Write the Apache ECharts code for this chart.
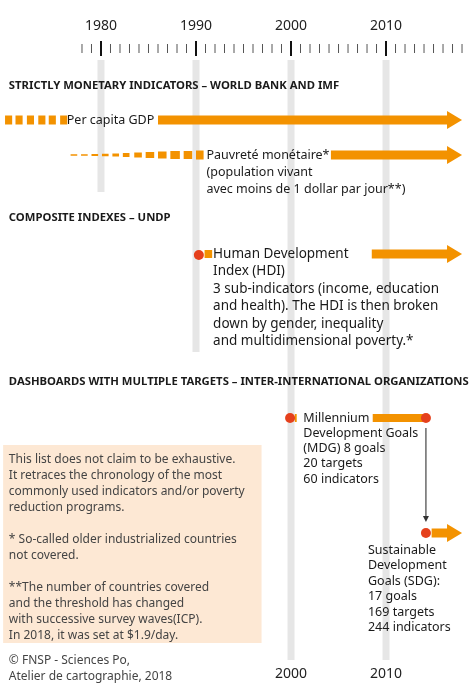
<!DOCTYPE html>
<html><head><meta charset="utf-8">
<script src="https://cdn.jsdelivr.net/npm/echarts@6/dist/echarts.min.js"></script>
<style>html,body{margin:0;padding:0;background:#fff}#c{width:474px;height:697px}</style>
</head><body><div id="c"></div>
<script>
var F='"Noto Sans", sans-serif';
var ORANGE='#f39200', RED='#e5401c';
var decadeLabels=[1980,1990,2000,2010];
var bottomLabels=[2000,2010];
var tickYears=[];for(var t=1978;t<=2018;t++)tickYears.push(t);
// gray bands: [year, yStart, yEnd]
var bands=[[1980,60,192],[1990,60,352],[2000,60,660],[2010,60,660]];
// arrows: [startYear, endYear, y]
var arrows=[[1986,2018.0,120],[2004.2,2018.0,155],[2008.5,2018.0,254],[2014.8,2018.0,533]];
// bars: [startYear, endYear, y, height]
var bars=[[1990.9,1991.7,254,8],[2000.4,2000.6,418,8],[2008.6,2013.9,418,8]];
// dashed squares for GDP: [startYear]
var gdpDashes=[1969.9,1971.0,1972.2,1973.4,1974.5,1975.7];
// pauvreté dashes: [startYear, endYear, thickness]
var povDashes=[[1976.8,1977.5,1.5],[1977.9,1978.6,1.5],[1979.0,1979.7,2],[1980.1,1980.8,2.5],[1981.2,1981.9,3],[1982.3,1983.0,4],[1983.5,1984.3,5],[1984.7,1985.6,6],[1986.0,1986.9,7],[1987.3,1988.3,8],[1988.7,1989.6,8],[1990.0,1990.8,9]];
// red dots: [year, y]
var dots=[[1990.3,255],[1999.9,418],[2014.2,418],[2014.2,533]];
// headings
var headings=[[1970.3,86,'STRICTLY MONETARY INDICATORS – WORLD BANK AND IMF'],[1970.3,218,'COMPOSITE INDEXES – UNDP'],[1970.3,382,'DASHBOARDS WITH MULTIPLE TARGETS – INTER-INTERNATIONAL ORGANIZATIONS']];
// text blocks: [year, firstY, lineHeight, fontSize, lines]
var texts=[
 [1976.4,120,17,12.5,['Per capita GDP']],
 [1991.1,155,17,12.5,['Pauvreté monétaire*','(population vivant','avec moins de 1 dollar par jour**)']],
 [1991.8,254,17.5,13.5,['Human Development','Index (HDI)','3 sub-indicators (income, education','and health). The HDI is then broken','down by gender, inequality','and multidimensional poverty.*']],
 [2001.3,418,15.3,12.5,['Millennium','Development Goals','(MDG) 8 goals','20 targets','60 indicators']],
 [2008.1,550,15.5,12.5,['Sustainable','Development','Goals (SDG):','17 goals','169 targets','244 indicators']],
 [1970.3,460,16,12,['This list does not claim to be exhaustive.','It retraces the chronology of the most','commonly used indicators and/or poverty','reduction programs.','','* So-called older industrialized countries','not covered.','','**The number of countries covered','and the threshold has changed','with successive survey waves(ICP).','In 2018, it was set at $1.9/day.']],
 [1970.3,661,16,12,['© FNSP - Sciences Po,','Atelier de cartographie, 2018']]
];
var box=[1969.7,2017,445,643];// startYear,endYear? (x end year), yTop,yBottom
box[1]=1996.9;

function custom(data,fn,z){return {type:'custom',coordinateSystem:'cartesian2d',data:data,z:z||2,silent:true,renderItem:function(p,api){return fn(data[p.dataIndex],api);},encode:{x:0,y:1}};}
function C(x,y,api){return api.coord([x,y]);}

var series=[
 custom([box],function(d,api){var a=C(d[0],d[2],api),b=C(d[1],d[3],api);return {type:'rect',shape:{x:a[0],y:a[1],width:b[0]-a[0],height:b[1]-a[1]},style:{fill:'#fde8d4'}};},1),
 custom(bands,function(d,api){var a=C(d[0],d[1],api),b=C(d[0],d[2],api);return {type:'rect',shape:{x:a[0]-3.5,y:a[1],width:7,height:b[1]-a[1]},style:{fill:'#e6e6e6'}};},1),
 custom(tickYears,function(d,api){var maj=d%10===0;var a=C(d,maj?41:44,api),b=C(d,maj?56:53,api);return {type:'line',shape:{x1:a[0],y1:a[1],x2:b[0],y2:b[1]},style:{stroke:maj?'#111':'#555',lineWidth:maj?2:1}};}),
 custom(decadeLabels,function(d,api){var a=C(d,26,api);return {type:'text',style:{x:a[0],y:a[1],text:String(d),font:'14px '+F,fill:'#222',align:'center',verticalAlign:'middle'}};}),
 custom(bottomLabels,function(d,api){var a=C(d,674,api);return {type:'text',style:{x:a[0],y:a[1],text:String(d),font:'14px '+F,fill:'#222',align:'center',verticalAlign:'middle'}};}),
 custom(arrows,function(d,api){var a=C(d[0],d[2],api),b=C(d[1],d[2],api);var h=9,H=18,L=15;var x0=a[0],x1=b[0],y=a[1];
   return {type:'polygon',shape:{points:[[x0,y-h/2],[x1-L,y-h/2],[x1-L,y-H/2],[x1,y],[x1-L,y+H/2],[x1-L,y+h/2],[x0,y+h/2]]},style:{fill:ORANGE}};}),
 custom(bars,function(d,api){var a=C(d[0],d[2],api),b=C(d[1],d[2],api);return {type:'rect',shape:{x:a[0],y:a[1]-d[3]/2,width:b[0]-a[0],height:d[3]},style:{fill:ORANGE}};}),
 custom(gdpDashes,function(d,api){var a=C(d,120,api),b=C(d+0.75,120,api);return {type:'rect',shape:{x:a[0],y:a[1]-4.5,width:b[0]-a[0],height:9},style:{fill:ORANGE}};}),
 custom(povDashes,function(d,api){var a=C(d[0],155,api),b=C(d[1],155,api);return {type:'rect',shape:{x:a[0],y:a[1]-d[2]/2,width:b[0]-a[0],height:d[2]},style:{fill:ORANGE}};}),
 custom([[2014.2,428,522]],function(d,api){var a=C(d[0],d[1],api),b=C(d[0],d[2],api);return {type:'group',children:[{type:'line',shape:{x1:a[0],y1:a[1],x2:b[0],y2:b[1]-5},style:{stroke:'#444',lineWidth:1.2}},{type:'polygon',shape:{points:[[b[0]-3,b[1]-6],[b[0]+3,b[1]-6],[b[0],b[1]]]},style:{fill:'#333'}}]};}),
 custom(dots,function(d,api){var a=C(d[0],d[1],api);return {type:'circle',shape:{cx:a[0],cy:a[1],r:5},style:{fill:RED}};},3),
 custom(headings,function(d,api){var a=C(d[0],d[1],api);return {type:'text',style:{x:a[0],y:a[1],text:d[2],font:'bold 11.3px '+F,fill:'#1a1a1a',verticalAlign:'middle'}};},4),
 custom(texts,function(d,api){var ch=[];for(var i=0;i<d[4].length;i++){var a=C(d[0],d[1]+i*d[2],api);ch.push({type:'text',style:{x:a[0],y:a[1],text:d[4][i],font:d[3]+'px '+F,fill:d[3]===12?'#444':'#1a1a1a',verticalAlign:'middle'}});}return {type:'group',children:ch};},4)
];
var chart=echarts.init(document.getElementById('c'));
chart.setOption({animation:false,grid:{left:0,right:0,top:0,bottom:0},
 xAxis:{type:'value',min:1969.37,max:2019.26,show:false},
 yAxis:{type:'value',min:0,max:697,inverse:true,show:false},
 series:series});
</script></body></html>
